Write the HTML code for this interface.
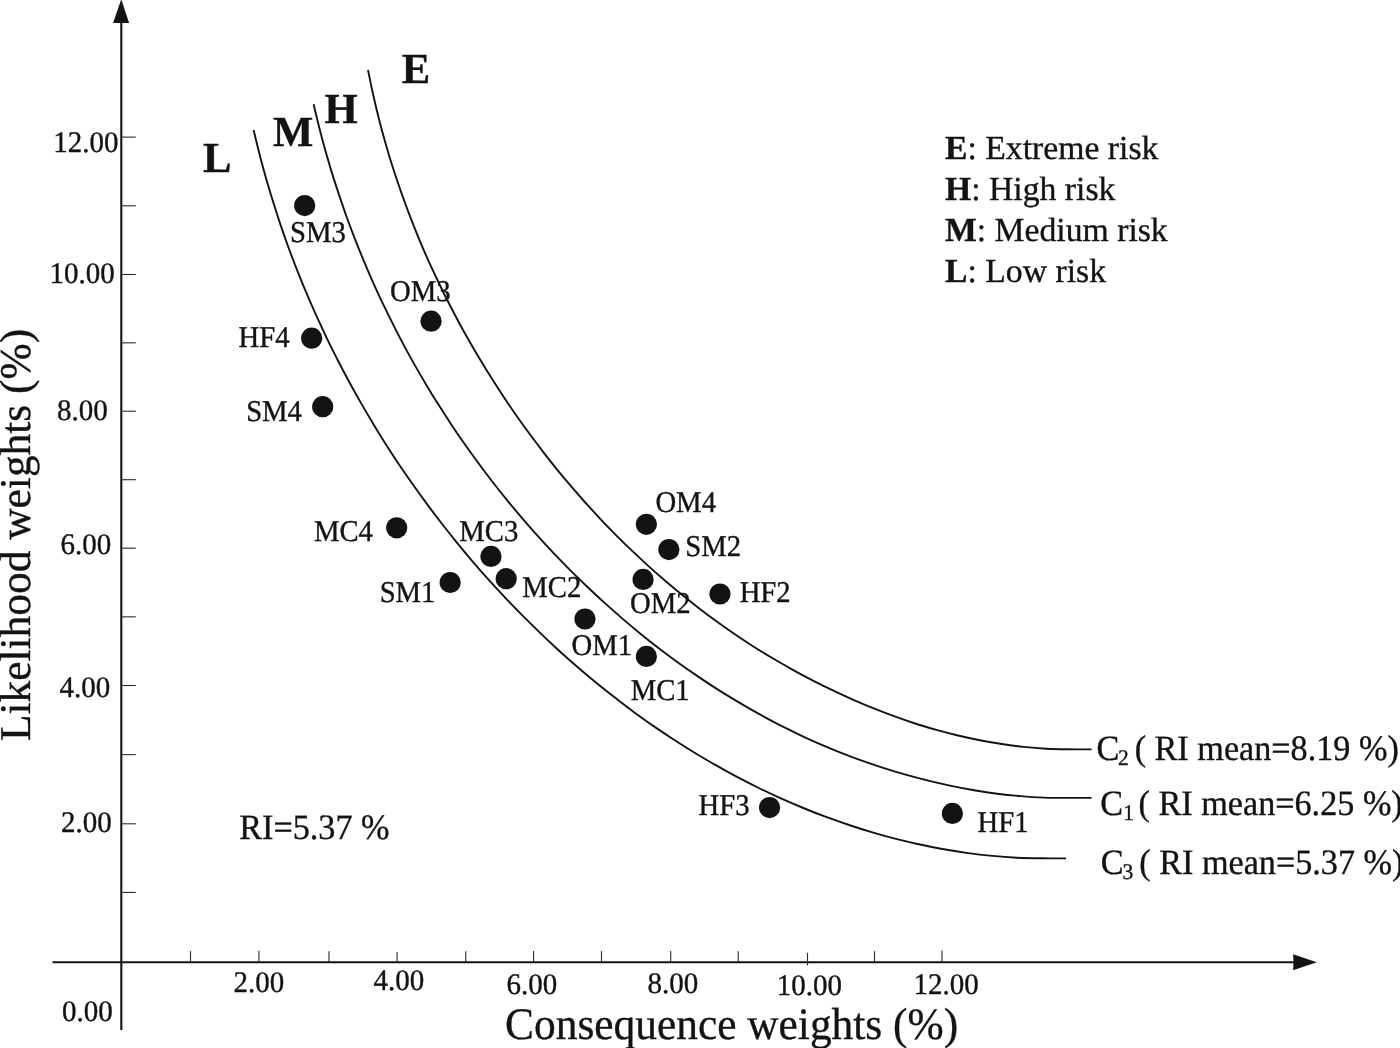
<!DOCTYPE html>
<html><head><meta charset="utf-8"><title>Risk chart</title>
<style>
html,body{margin:0;padding:0;background:#fff}
svg{display:block}
text{font-family:"Liberation Serif",serif;fill:#131313;white-space:pre;text-rendering:geometricPrecision;stroke:#131313;stroke-width:0.35px}
.t{font-size:29px}
.p{font-size:28.7px}
.g{font-size:33.7px}
.a{font-size:43.4px}
.b{font-size:42.7px;font-weight:bold}
.c{fill:none;stroke:#131313;stroke-width:1.9}
</style></head><body>
<svg width="1400" height="1048" viewBox="0 0 1400 1048">
<rect width="1400" height="1048" fill="#fff"/>
<g stroke="#131313" fill="none">
<line x1="121.3" y1="20" x2="121.3" y2="1030" stroke-width="2.1"/>
<line x1="52.5" y1="962.15" x2="1296" y2="962.15" stroke-width="2.0"/>
<line x1="190.5" y1="951.2" x2="190.5" y2="962" stroke-width="1.1" stroke="#2a2a2a"/>
<line x1="258.9" y1="950.7" x2="258.9" y2="962" stroke-width="1.1" stroke="#2a2a2a"/>
<line x1="329" y1="951.2" x2="329" y2="962" stroke-width="1.1" stroke="#2a2a2a"/>
<line x1="397.1" y1="952.1" x2="397.1" y2="962" stroke-width="1.1" stroke="#2a2a2a"/>
<line x1="465.75" y1="951.2" x2="465.75" y2="962" stroke-width="1.1" stroke="#2a2a2a"/>
<line x1="533.6" y1="951.1" x2="533.6" y2="962" stroke-width="1.1" stroke="#2a2a2a"/>
<line x1="601.5" y1="951.2" x2="601.5" y2="962" stroke-width="1.1" stroke="#2a2a2a"/>
<line x1="670.7" y1="951.1" x2="670.7" y2="962" stroke-width="1.1" stroke="#2a2a2a"/>
<line x1="738.25" y1="951.2" x2="738.25" y2="962" stroke-width="1.1" stroke="#2a2a2a"/>
<line x1="807.5" y1="952.9" x2="807.5" y2="965.4" stroke-width="1.1" stroke="#2a2a2a"/>
<line x1="874.5" y1="951.2" x2="874.5" y2="962" stroke-width="1.1" stroke="#2a2a2a"/>
<line x1="942" y1="950.4" x2="942" y2="962" stroke-width="1.1" stroke="#2a2a2a"/>
<line x1="121.6" y1="892.4" x2="135.8" y2="892.4" stroke-width="1.1" stroke="#2a2a2a"/>
<line x1="121.6" y1="823.8" x2="135.8" y2="823.8" stroke-width="1.1" stroke="#2a2a2a"/>
<line x1="121.6" y1="754.65" x2="135.8" y2="754.65" stroke-width="1.1" stroke="#2a2a2a"/>
<line x1="121.6" y1="685.5" x2="135.8" y2="685.5" stroke-width="1.1" stroke="#2a2a2a"/>
<line x1="121.6" y1="616.85" x2="135.8" y2="616.85" stroke-width="1.1" stroke="#2a2a2a"/>
<line x1="121.6" y1="548.2" x2="135.8" y2="548.2" stroke-width="1.1" stroke="#2a2a2a"/>
<line x1="121.6" y1="479.7" x2="135.8" y2="479.7" stroke-width="1.1" stroke="#2a2a2a"/>
<line x1="121.6" y1="411.2" x2="135.8" y2="411.2" stroke-width="1.1" stroke="#2a2a2a"/>
<line x1="121.6" y1="342.85" x2="135.8" y2="342.85" stroke-width="1.1" stroke="#2a2a2a"/>
<line x1="121.6" y1="274.5" x2="135.8" y2="274.5" stroke-width="1.1" stroke="#2a2a2a"/>
<line x1="121.6" y1="205.8" x2="135.8" y2="205.8" stroke-width="1.1" stroke="#2a2a2a"/>
<line x1="121.6" y1="137.1" x2="135.8" y2="137.1" stroke-width="1.1" stroke="#2a2a2a"/>
</g>
<path d="M121.25,-0.8 L129.1,22.9 L113.1,22.9 Z" fill="#131313"/>
<path d="M1316.8,962.3 L1293.1,970.3 Q1294.0,962.3 1293.1,954.3 Z" fill="#131313"/>
<path class="c" d="M253.6,130.0 C254.6,134.0 257.4,145.9 259.4,153.8 C261.4,161.7 263.6,169.6 265.8,177.4 C268.0,185.2 270.4,193.0 272.8,200.8 C275.2,208.6 277.7,216.4 280.3,224.1 C282.9,231.8 285.6,239.5 288.4,247.2 C291.2,254.9 294.1,262.5 297.1,270.1 C300.1,277.7 303.1,285.2 306.3,292.7 C309.5,300.2 312.8,307.8 316.1,315.2 C319.5,322.6 322.9,330.0 326.4,337.4 C329.9,344.8 333.6,352.0 337.3,359.3 C341.0,366.6 344.8,373.8 348.7,381.0 C352.6,388.2 356.6,395.3 360.6,402.4 C364.7,409.5 368.8,416.4 373.0,423.4 C377.2,430.4 381.4,437.3 385.8,444.2 C390.2,451.1 394.6,457.9 399.2,464.7 C403.8,471.5 408.4,478.1 413.1,484.8 C417.8,491.5 422.6,498.1 427.4,504.6 C432.2,511.1 437.1,517.6 442.1,524.0 C447.1,530.4 452.2,536.8 457.3,543.1 C462.4,549.4 467.6,555.6 472.9,561.8 C478.2,568.0 483.6,574.2 489.0,580.2 C494.4,586.2 500.0,592.2 505.6,598.1 C511.2,604.0 516.9,609.9 522.6,615.7 C528.4,621.5 534.2,627.2 540.1,632.9 C546.0,638.6 552.0,644.2 558.0,649.7 C564.0,655.2 570.1,660.6 576.3,666.0 C582.5,671.4 588.7,676.6 595.0,681.8 C601.3,687.0 607.8,692.1 614.2,697.1 C620.7,702.1 627.1,707.1 633.7,711.9 C640.3,716.7 646.9,721.5 653.6,726.1 C660.3,730.7 667.2,735.3 674.0,739.7 C680.8,744.1 687.6,748.5 694.6,752.7 C701.6,756.9 708.6,761.1 715.7,765.1 C722.8,769.1 729.9,773.1 737.1,776.9 C744.3,780.7 751.5,784.4 758.8,788.0 C766.1,791.6 773.5,795.1 780.9,798.4 C788.3,801.7 795.8,804.9 803.3,808.0 C810.8,811.1 818.4,814.1 826.0,816.9 C833.6,819.7 841.4,822.4 849.1,825.0 C856.8,827.6 864.6,830.1 872.4,832.4 C880.2,834.7 888.1,836.9 896.0,838.9 C903.9,840.9 911.9,842.8 919.9,844.5 C927.9,846.2 935.8,847.9 943.9,849.3 C952.0,850.7 960.1,852.0 968.2,853.1 C976.3,854.2 984.4,855.1 992.5,855.9 C1000.6,856.7 1008.8,857.3 1016.9,857.7 C1025.0,858.1 1033.2,858.2 1041.4,858.3 C1049.6,858.4 1061.9,858.4 1066.0,858.4"/>
<path class="c" d="M313.6,104.2 C314.5,108.0 317.2,119.4 319.1,127.0 C321.0,134.6 323.0,142.1 325.1,149.6 C327.2,157.1 329.4,164.6 331.7,172.1 C334.0,179.6 336.4,187.0 338.9,194.4 C341.4,201.8 343.9,209.2 346.5,216.5 C349.1,223.8 351.9,231.1 354.7,238.4 C357.5,245.7 360.5,252.9 363.5,260.1 C366.5,267.3 369.5,274.5 372.7,281.6 C375.9,288.7 379.1,295.8 382.5,302.9 C385.9,309.9 389.3,316.9 392.8,323.9 C396.3,330.8 399.8,337.7 403.5,344.6 C407.2,351.5 410.9,358.3 414.8,365.1 C418.7,371.9 422.6,378.7 426.6,385.4 C430.6,392.1 434.7,398.7 438.9,405.3 C443.1,411.9 447.3,418.4 451.6,424.9 C455.9,431.4 460.3,437.9 464.8,444.3 C469.3,450.7 473.9,457.0 478.5,463.3 C483.1,469.6 487.8,475.8 492.6,482.0 C497.4,488.2 502.2,494.2 507.2,500.3 C512.1,506.4 517.2,512.4 522.3,518.3 C527.4,524.2 532.5,530.1 537.7,535.9 C542.9,541.7 548.2,547.5 553.6,553.1 C559.0,558.8 564.4,564.3 569.9,569.8 C575.4,575.3 581.1,580.8 586.7,586.2 C592.4,591.6 598.0,596.9 603.8,602.1 C609.6,607.3 615.4,612.5 621.3,617.6 C627.2,622.7 633.2,627.8 639.2,632.7 C645.2,637.6 651.3,642.5 657.5,647.2 C663.7,652.0 669.9,656.6 676.2,661.2 C682.5,665.8 688.9,670.2 695.3,674.6 C701.7,679.0 708.2,683.4 714.8,687.6 C721.4,691.8 728.0,695.9 734.7,699.9 C741.4,703.9 748.1,707.9 754.9,711.7 C761.7,715.5 768.6,719.3 775.5,722.9 C782.4,726.5 789.5,729.9 796.5,733.3 C803.5,736.7 810.6,740.0 817.7,743.1 C824.8,746.2 832.1,749.2 839.3,752.1 C846.5,755.0 853.8,757.8 861.1,760.4 C868.4,763.0 875.8,765.5 883.2,767.9 C890.6,770.3 898.1,772.6 905.6,774.7 C913.1,776.8 920.7,778.8 928.3,780.7 C935.9,782.6 943.5,784.3 951.1,785.9 C958.7,787.5 966.4,788.9 974.1,790.2 C981.8,791.5 989.5,792.7 997.3,793.7 C1005.0,794.7 1012.8,795.5 1020.6,796.1 C1028.4,796.8 1036.2,797.3 1044.0,797.6 C1051.8,797.9 1059.4,797.9 1067.3,797.9 C1075.2,797.9 1087.5,797.9 1091.6,797.9"/>
<path class="c" d="M368.0,70.0 C368.8,73.6 370.9,84.5 372.5,91.8 C374.1,99.0 375.8,106.3 377.6,113.5 C379.4,120.7 381.2,127.9 383.2,135.1 C385.2,142.3 387.2,149.4 389.4,156.5 C391.6,163.6 393.8,170.6 396.2,177.7 C398.6,184.8 401.0,191.8 403.5,198.8 C406.0,205.8 408.6,212.7 411.3,219.6 C414.0,226.5 416.7,233.4 419.6,240.3 C422.5,247.2 425.4,254.0 428.5,260.8 C431.6,267.6 434.7,274.3 437.9,281.0 C441.1,287.7 444.3,294.4 447.7,301.0 C451.1,307.6 454.5,314.2 458.0,320.8 C461.5,327.4 465.1,333.8 468.8,340.3 C472.5,346.8 476.3,353.2 480.1,359.6 C483.9,366.0 487.8,372.3 491.8,378.6 C495.8,384.9 499.8,391.1 503.9,397.3 C508.0,403.5 512.2,409.6 516.5,415.7 C520.8,421.8 525.1,427.8 529.5,433.8 C533.9,439.8 538.4,445.7 542.9,451.6 C547.4,457.5 552.0,463.3 556.7,469.1 C561.4,474.9 566.2,480.6 571.0,486.2 C575.8,491.8 580.8,497.5 585.7,503.0 C590.7,508.5 595.6,513.9 600.7,519.3 C605.8,524.7 611.0,530.0 616.2,535.3 C621.5,540.6 626.8,545.8 632.2,550.9 C637.6,556.0 643.0,561.1 648.5,566.1 C654.0,571.1 659.6,576.0 665.2,580.8 C670.8,585.6 676.5,590.4 682.3,595.1 C688.1,599.8 694.0,604.4 699.9,608.9 C705.8,613.4 711.8,617.9 717.8,622.2 C723.8,626.6 729.9,630.8 736.0,635.0 C742.1,639.2 748.2,643.2 754.5,647.2 C760.8,651.2 767.1,655.0 773.5,658.8 C779.9,662.6 786.3,666.2 792.8,669.8 C799.3,673.4 805.9,676.9 812.5,680.3 C819.1,683.7 825.7,687.0 832.4,690.2 C839.1,693.4 845.9,696.6 852.7,699.6 C859.5,702.6 866.3,705.4 873.2,708.2 C880.1,711.0 887.0,713.7 894.0,716.2 C901.0,718.8 908.0,721.2 915.1,723.5 C922.2,725.8 929.4,727.9 936.5,729.9 C943.6,731.9 950.8,733.8 958.0,735.5 C965.2,737.2 972.5,738.8 979.8,740.2 C987.1,741.6 994.4,742.9 1001.8,744.0 C1009.1,745.1 1016.5,746.1 1023.9,746.9 C1031.3,747.7 1038.7,748.3 1046.1,748.7 C1053.5,749.1 1060.8,749.2 1068.4,749.3 C1076.0,749.4 1087.7,749.4 1091.6,749.4"/>
<circle cx="304.7" cy="205.6" r="10.6" fill="#131313"/>
<circle cx="311.7" cy="338.2" r="10.6" fill="#131313"/>
<circle cx="322.7" cy="406.7" r="10.6" fill="#131313"/>
<circle cx="431.1" cy="321.2" r="10.6" fill="#131313"/>
<circle cx="396.7" cy="527.8" r="10.6" fill="#131313"/>
<circle cx="450.2" cy="582.5" r="10.6" fill="#131313"/>
<circle cx="491" cy="556.4" r="10.6" fill="#131313"/>
<circle cx="506.2" cy="578.7" r="10.6" fill="#131313"/>
<circle cx="585" cy="619" r="10.6" fill="#131313"/>
<circle cx="646.4" cy="656.4" r="10.6" fill="#131313"/>
<circle cx="646.4" cy="524.3" r="10.6" fill="#131313"/>
<circle cx="668.9" cy="549.6" r="10.6" fill="#131313"/>
<circle cx="643.1" cy="579.4" r="10.6" fill="#131313"/>
<circle cx="720" cy="594" r="10.6" fill="#131313"/>
<circle cx="769.6" cy="807.6" r="10.6" fill="#131313"/>
<circle cx="952.4" cy="813.4" r="10.6" fill="#131313"/>
<text class="p" transform="translate(290.05 242.00) scale(1 1.05)">SM3</text>
<text class="p" transform="translate(238.55 346.70) scale(1 1.05)">HF4</text>
<text class="p" transform="translate(246.15 420.70) scale(1 1.05)">SM4</text>
<text class="p" transform="translate(390.10 301.20) scale(1 1.05)">OM3</text>
<text class="p" transform="translate(313.95 541.00) scale(1 1.05)">MC4</text>
<text class="p" transform="translate(379.65 602.20) scale(1 1.05)">SM1</text>
<text class="p" transform="translate(459.25 541.10) scale(1 1.05)">MC3</text>
<text class="p" transform="translate(522.25 597.30) scale(1 1.05)">MC2</text>
<text class="p" transform="translate(571.60 655.10) scale(1 1.05)">OM1</text>
<text class="p" transform="translate(630.65 700.00) scale(1 1.05)">MC1</text>
<text class="p" transform="translate(655.40 512.30) scale(1 1.05)">OM4</text>
<text class="p" transform="translate(685.35 556.10) scale(1 1.05)">SM2</text>
<text class="p" transform="translate(630.00 613.10) scale(1 1.05)">OM2</text>
<text class="p" transform="translate(739.65 601.80) scale(1 1.05)">HF2</text>
<text class="p" transform="translate(698.55 814.70) scale(1 1.05)">HF3</text>
<text class="p" transform="translate(977.55 832.30) scale(1 1.05)">HF1</text>
<text class="t" transform="translate(233.50 991.75) scale(1 1.03)">2.00</text>
<text class="t" transform="translate(373.40 989.95) scale(1 1.03)">4.00</text>
<text class="t" transform="translate(506.50 993.55) scale(1 1.03)">6.00</text>
<text class="t" transform="translate(647.60 992.85) scale(1 1.03)">8.00</text>
<text class="t" transform="translate(776.80 995.15) scale(1 1.03)">10.00</text>
<text class="t" transform="translate(913.60 993.55) scale(1 1.03)">12.00</text>
<text class="t" transform="translate(53.20 151.75) scale(1 1.03)">12.00</text>
<text class="t" transform="translate(49.60 282.85) scale(1 1.03)">10.00</text>
<text class="t" transform="translate(56.90 419.65) scale(1 1.03)">8.00</text>
<text class="t" transform="translate(60.60 553.55) scale(1 1.03)">6.00</text>
<text class="t" transform="translate(59.60 696.75) scale(1 1.03)">4.00</text>
<text class="t" transform="translate(61.10 832.25) scale(1 1.03)">2.00</text>
<text class="t" transform="translate(62.00 1020.55) scale(1 1.03)">0.00</text>
<text class="b" x="401.80" y="83.40">E</text>
<text class="b" x="324.50" y="123.20">H</text>
<text class="b" x="273.00" y="146.00">M</text>
<text class="b" x="203.00" y="171.50">L</text>
<text class="g" x="945.03" y="159.00"><tspan font-weight="bold">E</tspan>: Extreme risk</text>
<text class="g" x="945.03" y="200.30"><tspan font-weight="bold">H</tspan>: High risk</text>
<text class="g" x="945.03" y="240.60"><tspan font-weight="bold">M</tspan>: Medium risk</text>
<text class="g" x="945.03" y="281.60"><tspan font-weight="bold">L</tspan>: Low risk</text>
<text class="a" transform="translate(505.06 1038.90) scale(1 1.034)">Consequence weights (%)</text>
<text class="a" transform="translate(30.0,741.0) rotate(-90) scale(1 1.01)">Likelihood weights (%)</text>
<text font-size="34.2" transform="translate(239.25 838.55) scale(1 1.043)">RI=5.37 %</text>
<text font-size="34.2" transform="translate(1096.43 759.70) scale(1 1.043)">C</text>
<text font-size="21.5" transform="translate(1118.04 765.00) scale(1 1.043)">2</text>
<text font-size="34.2" transform="translate(1134.63 759.70) scale(1 1.043)">( RI mean=8.19 %)</text>
<text font-size="34.2" transform="translate(1100.33 815.00) scale(1 1.043)">C</text>
<text font-size="21.5" transform="translate(1123.34 820.30) scale(1 1.043)">1</text>
<text font-size="34.2" transform="translate(1138.53 815.00) scale(1 1.043)">( RI mean=6.25 %)</text>
<text font-size="34.2" transform="translate(1100.83 873.50) scale(1 1.043)">C</text>
<text font-size="21.5" transform="translate(1122.54 878.80) scale(1 1.043)">3</text>
<text font-size="34.2" transform="translate(1139.23 873.50) scale(1 1.043)">( RI mean=5.37 %)</text>
</svg></body></html>
